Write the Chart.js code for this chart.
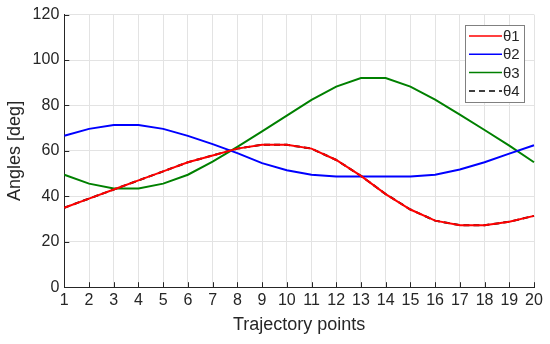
<!DOCTYPE html>
<html>
<head>
<meta charset="utf-8">
<script src="https://cdn.jsdelivr.net/npm/chart.js@4.4.0/dist/chart.umd.min.js"></script>
<style>
  html, body { margin: 0; padding: 0; background: #fff; }
  #wrap { width: 550px; height: 344px; }
</style>
</head>
<body>
<div id="wrap"><canvas id="grafico" width="550" height="344"></canvas></div>
<script>
const points = [1, 2, 3, 4, 5, 6, 7, 8, 9, 10, 11, 12, 13, 14, 15, 16, 17, 18, 19, 20];
const theta1 = [35, 39, 43, 47, 51, 55, 58, 61, 62.7, 62.7, 61, 56, 49, 41, 34.2, 29.3, 27.3, 27.3, 28.8, 31.4];
const theta2 = [66.7, 69.7, 71.4, 71.4, 69.7, 66.6, 63, 59, 54.6, 51.5, 49.5, 48.7, 48.7, 48.7, 48.7, 49.5, 51.8, 55, 58.8, 62.5];
const theta3 = [49.5, 45.6, 43.5, 43.5, 45.6, 49.5, 55.3, 61.8, 68.6, 75.5, 82.5, 88.3, 92.1, 92.1, 88.3, 82.6, 76, 69.2, 62.3, 55];
const theta4 = theta1.slice();
const yTicks = [0, 20, 40, 60, 80, 100, 120];

const axisColor = '#262626';
const fonte = 'Arial, "Liberation Sans", Helvetica, sans-serif';

// legenda dentro da área do gráfico (canto superior direito)
const legendaInterna = {
    id: 'legendaInterna',
    afterDraw(chart) {
        const ctx = chart.ctx;
        const x0 = 465, y0 = 25, w = 59, h = 77;
        ctx.save();
        ctx.fillStyle = '#fff';
        ctx.fillRect(x0, y0, w, h);
        ctx.strokeStyle = '#808080';
        ctx.lineWidth = 1;
        ctx.strokeRect(x0 + 0.5, y0 + 0.5, w, h);
        ctx.font = '15px ' + fonte;
        ctx.textBaseline = 'middle';
        chart.data.datasets.forEach((ds, i) => {
            const y = y0 + 11 + i * 18.3;
            ctx.beginPath();
            ctx.strokeStyle = ds.borderColor;
            ctx.lineWidth = 1.5;
            ctx.setLineDash(ds.borderDash || []);
            ctx.moveTo(x0 + 4, y);
            ctx.lineTo(x0 + 37, y);
            ctx.stroke();
            ctx.setLineDash([]);
            ctx.fillStyle = axisColor;
            ctx.fillText(ds.label, x0 + 38, y + 1);
        });
        ctx.restore();
    }
};

// marcas de escala para dentro, estilo MATLAB
const marcasInternas = {
    id: 'marcasInternas',
    afterDatasetsDraw(chart) {
        const ctx = chart.ctx;
        const a = chart.chartArea;
        const sx = chart.scales.x, sy = chart.scales.y;
        ctx.save();
        ctx.strokeStyle = axisColor;
        ctx.lineWidth = 1;
        ctx.beginPath();
        points.forEach((p, i) => {
            const x = Math.round(sx.getPixelForValue(i)) + 0.5;
            ctx.moveTo(x, a.bottom);
            ctx.lineTo(x, a.bottom - 5);
        });
        yTicks.forEach(v => {
            const y = Math.round(sy.getPixelForValue(v)) + 0.5;
            ctx.moveTo(a.left, y);
            ctx.lineTo(a.left + 5, y);
        });
        ctx.stroke();
        ctx.restore();
    }
};

new Chart(document.getElementById('grafico'), {
    type: 'line',
    data: {
        labels: points,
        datasets: [
            { label: 'θ1', data: theta1, borderColor: '#ff0000', borderWidth: 2, pointRadius: 0, fill: false, tension: 0 },
            { label: 'θ2', data: theta2, borderColor: '#0000ff', borderWidth: 2, pointRadius: 0, fill: false, tension: 0 },
            { label: 'θ3', data: theta3, borderColor: '#008000', borderWidth: 2, pointRadius: 0, fill: false, tension: 0 },
            { label: 'θ4', data: theta4, borderColor: '#000000', borderWidth: 2, borderDash: [6, 4], pointRadius: 0, fill: false, tension: 0 }
        ]
    },
    options: {
        responsive: false,
        animation: false,
        devicePixelRatio: 1,
        layout: { padding: { top: 8, right: 16, left: 0, bottom: 4 } },
        plugins: {
            legend: { display: false },
            tooltip: { enabled: false }
        },
        scales: {
            x: {
                offset: false,
                grid: { color: '#e3e3e3', drawTicks: false },
                border: { color: axisColor, width: 1 },
                ticks: { color: axisColor, font: { family: fonte, size: 16 }, padding: 4, maxRotation: 0, autoSkip: false },
                title: { display: true, text: 'Trajectory points', color: axisColor, font: { family: fonte, size: 18 }, padding: { top: 0 } }
            },
            y: {
                min: 0,
                max: 120,
                afterBuildTicks: scale => { scale.ticks = yTicks.map(v => ({ value: v })); },
                grid: { color: '#e3e3e3', drawTicks: false },
                border: { color: axisColor, width: 1 },
                ticks: { color: axisColor, font: { family: fonte, size: 16 }, padding: 5 },
                title: { display: true, text: 'Angles [deg]', color: axisColor, font: { family: fonte, size: 18 }, padding: { bottom: 2 } }
            }
        }
    },
    plugins: [marcasInternas, legendaInterna]
});
</script>
</body>
</html>
